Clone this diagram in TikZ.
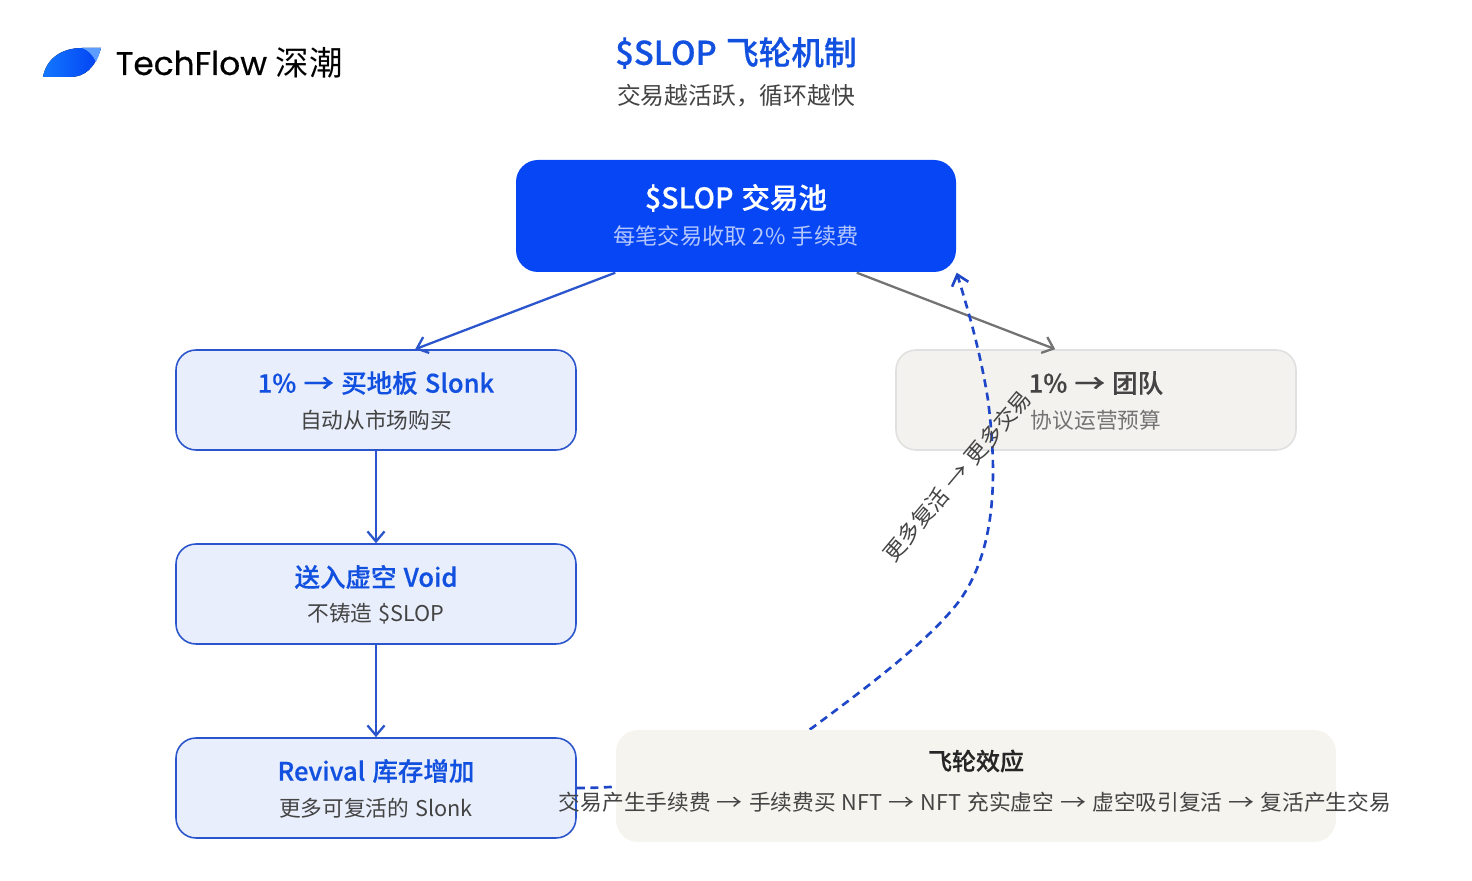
\documentclass[tikz,border=0pt]{standalone}
\usepackage{fontspec}
\setmainfont{Noto Sans CJK SC}[WordSpace=1.25, BoldFont={Noto Sans CJK SC Medium}, BoldFeatures={FakeBold=0.5}]
\newfontfamily\logofont{Poppins}[FakeBold=0.4]
\usetikzlibrary{arrows.meta, positioning, calc}

\definecolor{brandblue}{HTML}{0646F5}
\definecolor{headblue}{HTML}{1250E0}
\definecolor{edgeblue}{HTML}{2A55CC}
\definecolor{dashblue}{HTML}{1E46C8}
\definecolor{paleblue}{HTML}{E8EEFC}
\definecolor{palegrey}{HTML}{F3F2EF}
\definecolor{palecream}{HTML}{F5F4EE}
\definecolor{inkgrey}{HTML}{444444}
\definecolor{leafleft}{HTML}{1277FF}
\definecolor{leafright}{HTML}{0340F2}
\definecolor{leaftip}{HTML}{5C9DFF}

\newcommand{\pxfont}[1]{\pgfmathsetmacro{\pxsize}{#1*0.2845}\fontsize{\pxsize pt}{\pxsize pt}\selectfont}
\newcommand{\arr}{\scalebox{1.2}[1]{→}}

\tikzset{
  flowbox/.style={draw=edgeblue, fill=paleblue, line width=0.45pt, rounded corners=0.2cm,
    minimum width=4cm, minimum height=1cm},
  headtext/.style={font=\bfseries\pxfont{25.5}, text=headblue},
  subtext/.style={font=\pxfont{21.7}, text=inkgrey},
  flowline/.style={-{Straight Barb[length=1mm, width=1.7mm]}, line width=0.65pt},
}

\begin{document}
\begin{tikzpicture}
  \useasboundingbox (0,0) rectangle (14.72,8.8);

  % Logo
  \fill[left color=leafleft, right color=leafright] (0.43,8.03) .. controls (0.46,8.20) and (0.60,8.32) .. (0.82,8.32)
    -- (1.01,8.32) .. controls (0.95,8.12) and (0.85,8.03) .. (0.70,8.03) -- cycle;
  \fill[leaftip] (0.82,8.32) -- (1.01,8.32) .. controls (0.99,8.25) and (0.98,8.22) .. (0.96,8.18)
    .. controls (0.93,8.25) and (0.88,8.30) .. (0.82,8.32) -- cycle;
  \node[font=\logofont\pxfont{32.8}, text=black, anchor=west, inner sep=0pt] (logo) at (1.15,8.17) {TechFlow};
  \node[font=\pxfont{33.5}, text=black, anchor=west, inner sep=0pt] (logocn) at (2.75,8.17) {深潮};

  % Title
  \node[font=\bfseries\pxfont{32.7}, text=headblue] (title) at (7.36,8.27) {\$SLOP 飞轮机制};
  \node[font=\pxfont{23.8}, text=inkgrey] (subtitle) at (7.36,7.84) {交易越活跃，循环越快};

  % Pool
  \node[fill=brandblue, rounded corners=0.22cm, minimum width=4.4cm, minimum height=1.12cm] (pool) at (7.36,6.64) {};
  \node[font=\bfseries\pxfont{28.5}, text=white] (pooltitle) at (7.36,6.82) {\$SLOP 交易池};
  \node[font=\pxfont{22.2}, text=white!70!brandblue] (poolsub) at (7.36,6.44) {每笔交易收取 2\% 手续费};

  % Left column
  \foreach \name/\y/\head/\sub in {buy/4.80/{1\% \arr{} 买地板 Slonk}/{自动从市场购买},
      void/2.86/{送入虚空 Void}/{不铸造 \$SLOP},
      revival/0.92/{Revival 库存增加}/{更多可复活的 Slonk}} {
    \node[flowbox] (\name) at (3.76,\y) {};
    \node[headtext] (\name title) at (3.76,\y+0.17) {\head};
    \node[subtext] (\name sub) at (3.76,\y-0.20) {\sub};
  }

  % Team
  \node[flowbox, draw=black!12, fill=palegrey] (team) at (10.96,4.80) {};
  \node[headtext, text=inkgrey] (teamtitle) at (10.96,4.97) {1\% \arr{} 团队};
  \node[subtext, text=black!55] (teamsub) at (10.96,4.60) {协议运营预算};

  % Flow
  \draw[flowline, draw=edgeblue] ([xshift=1cm]pool.south west) -- ([xshift=2.4cm]buy.north west);
  \draw[flowline, draw=black!55] ([xshift=-1cm]pool.south east) -- ([xshift=1.6cm]team.north west);
  \draw[flowline, draw=edgeblue] (buy) -- (void);
  \draw[flowline, draw=edgeblue] (void) -- (revival);

  % Feedback, runs behind the flywheel box
  \draw[flowline, draw=dashblue, line width=0.75pt, dash pattern=on 0.08cm off 0.055cm] (revival.east)
    .. controls (6.8,0.92) and (7.6,1.2) .. (8.12,1.52)
    .. controls (8.7,1.95) and (9.3,2.4) .. (9.6,2.8)
    .. controls (9.95,3.3) and (9.98,4.0) .. (9.88,4.8)
    .. controls (9.8,5.3) and (9.68,5.7) .. (pool.south east);

  % Flywheel
  \node[fill=palecream, rounded corners=0.22cm, minimum width=7.2cm, minimum height=1.12cm] (wheel) at (9.76,0.94) {};
  \node[font=\bfseries\pxfont{24}, text=black!85] (wheeltitle) at (9.76,1.19) {飞轮效应};
  \node[font=\pxfont{21.7}, text=inkgrey] (wheelsub) at (9.75,0.78) {交易产生手续费 \arr{} 手续费买 NFT \arr{} NFT 充实虚空 \arr{} 虚空吸引复活 \arr{} 复活产生交易};

  \node[font=\pxfont{22}, text=inkgrey, rotate=50] (backlabel) at (9.57,4.04) {更多复活 \arr{} 更多交易};
\end{tikzpicture}
\end{document}
